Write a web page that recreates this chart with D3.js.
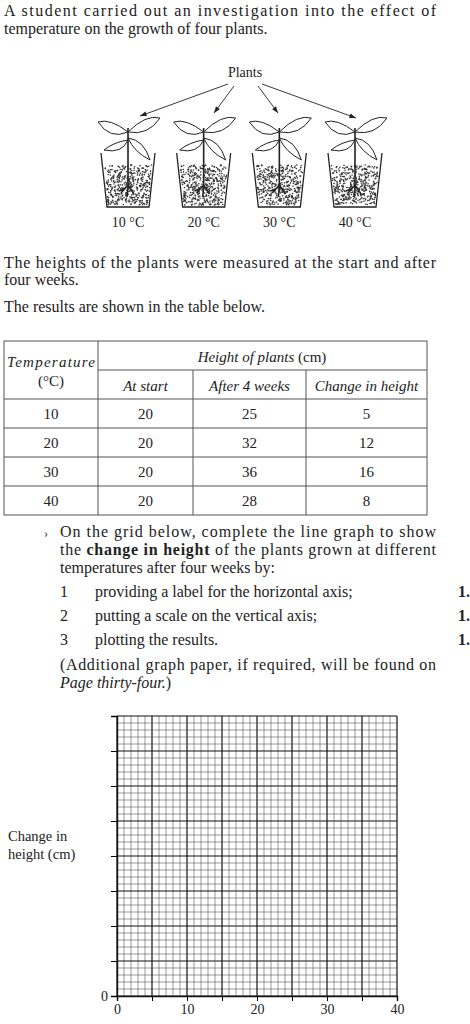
<!DOCTYPE html>
<html>
<head>
<meta charset="utf-8">
<script src="https://cdn.jsdelivr.net/npm/d3@7"></script>
<style>
  body { margin: 0; background: #fff; }
  svg { display: block; font-family: "Liberation Serif", "DejaVu Serif", serif; }
</style>
</head>
<body>
<svg id="page" width="470" height="1024"></svg>
<script>
// data from the table
const temperatures = [10, 20, 30, 40]
const atStart = [20, 20, 20, 20]
const after4Weeks = [25, 32, 36, 28]
const changeInHeight = [5, 12, 16, 8]
const headers = ["At start", "After 4 weeks", "Change in height"]
const xTicks = [0, 10, 20, 30, 40]

const svg = d3.select("#page")
const ink = "#222"
const FS = 16

// justified line helper
function line(x, y, txt, opts = {}) {
    const t = svg.append("text").attr("x", x).attr("y", y)
        .attr("font-size", opts.size || FS).attr("fill", ink)
    if (opts.width) t.attr("textLength", opts.width).attr("lengthAdjust", "spacing")
    if (opts.italic) t.attr("font-style", "italic")
    t.text(txt)
    return t
}

line(4, 16, "A student carried out an investigation into the effect of", {width: 432})
line(4, 34, "temperature on the growth of four plants.")

// plants illustration
const potX = d3.scaleLinear().domain([10, 40]).range([128, 355])
svg.append("text").attr("x", 245).attr("y", 77).attr("text-anchor", "middle")
    .attr("font-size", 14).attr("fill", ink).text("Plants")
const arrowEnds = [[140, 116], [214, 113], [278, 113], [356, 118]]
const arrowStarts = [[228, 84], [234, 86], [258, 86], [262, 84]]
arrowEnds.forEach((e, i) => {
    const s = arrowStarts[i]
    svg.append("line").attr("x1", s[0]).attr("y1", s[1]).attr("x2", e[0]).attr("y2", e[1])
        .attr("stroke", ink).attr("stroke-width", 0.9)
    const a = Math.atan2(e[1] - s[1], e[0] - s[0])
    const p = [[e[0], e[1]],
        [e[0] - 7 * Math.cos(a - 0.35), e[1] - 7 * Math.sin(a - 0.35)],
        [e[0] - 7 * Math.cos(a + 0.35), e[1] - 7 * Math.sin(a + 0.35)]]
    svg.append("path").attr("d", "M" + p.join("L") + "Z").attr("fill", ink)
})

// deterministic hash for soil texture
const hash = n => { const s = Math.sin(n * 12.9898) * 43758.5453; return s - Math.floor(s) }

temperatures.forEach((t, i) => {
    const cx = potX(t)
    const g = svg.append("g").attr("transform", `translate(${cx},0)`)
    g.append("path").attr("d", "M-24,165 Q-12,162 0,165 Q12,162 24,165 L20,205 L-20,205 Z")
        .attr("fill", "#fff").attr("stroke", "none")
    for (let k = 0; k < 420; k++) {
        const py = 165 + hash(k + i * 1000) * 40
        const half = 24 - (py - 165) * 0.1
        const px = (hash(k * 7 + 3 + i * 999) * 2 - 1) * half
        g.append("circle").attr("cx", px).attr("cy", py).attr("r", 0.8).attr("fill", "#333")
    }
    g.append("path").attr("d", "M-27,153 L-21,207 L21,207 L27,153")
        .attr("fill", "none").attr("stroke", ink).attr("stroke-width", 1.3)
    g.append("path").attr("d", "M0,190 L0,128 M0,185 l-7,8 M0,185 l6,9 M0,187 l-1,10 M-4,189 l-5,2")
        .attr("stroke", ink).attr("stroke-width", 1.6).attr("fill", "none")
    const leaves = ["M0,132 Q-18,118 -30,122 Q-18,140 0,132",
        "M0,132 Q18,114 32,118 Q20,136 0,132",
        "M0,140 Q-14,142 -24,150 Q-6,154 0,140",
        "M0,138 Q16,140 22,160 Q6,152 0,138"]
    leaves.forEach(d => g.append("path").attr("d", d)
        .attr("fill", "#fff").attr("stroke", ink).attr("stroke-width", 1))
    svg.append("text").attr("x", cx).attr("y", 227).attr("text-anchor", "middle")
        .attr("font-size", 14).attr("fill", ink).text(t + " °C")
})

line(4, 268, "The heights of the plants were measured at the start and after", {width: 432})
line(4, 285, "four weeks.")
line(4, 312, "The results are shown in the table below.")

// table
const colEdges = [4, 98, 193, 306, 427]
const rowEdges = [341, 370, 399, 428, 457, 486, 515]
const tg = svg.append("g").attr("stroke", "#555").attr("stroke-width", 1)
tg.append("rect").attr("x", 4).attr("y", 341).attr("width", 423).attr("height", 174).attr("fill", "none")
tg.append("line").attr("x1", 98).attr("x2", 427).attr("y1", 370).attr("y2", 370)
rowEdges.slice(2, 6).forEach(y => tg.append("line").attr("x1", 4).attr("x2", 427).attr("y1", y).attr("y2", y))
colEdges.slice(1, 4).forEach((x, i) => tg.append("line").attr("x1", x).attr("x2", x)
    .attr("y1", i === 0 ? 341 : 370).attr("y2", 515))

const mid = i => (colEdges[i] + colEdges[i + 1]) / 2
const cell = (x, y, txt, italic) => svg.append("text").attr("x", x).attr("y", y)
    .attr("text-anchor", "middle").attr("font-size", 15).attr("fill", ink)
    .attr("font-style", italic ? "italic" : null).text(txt)
cell(mid(0), 367, "Temperature", true).attr("textLength", 88).attr("lengthAdjust", "spacing")
cell(mid(0), 386, "(°C)", false)
const h = svg.append("text").attr("x", 262).attr("y", 362).attr("text-anchor", "middle")
    .attr("font-size", 15).attr("fill", ink)
h.append("tspan").attr("font-style", "italic").text("Height of plants")
h.append("tspan").text(" (cm)")
headers.forEach((t, i) => cell(mid(i + 1), 391, t, true))
temperatures.forEach((t, r) => {
    const y = rowEdges[r + 2] + 20
    cell(mid(0), y, t)
    cell(mid(1), y, atStart[r])
    cell(mid(2), y, after4Weeks[r])
    cell(mid(3), y, changeInHeight[r])
})

// question text
line(44, 537, "›", {size: 12})
line(60, 537, "On the grid below, complete the line graph to show", {width: 376})
const q2 = svg.append("text").attr("x", 60).attr("y", 555).attr("font-size", FS).attr("fill", ink)
    .attr("textLength", 376).attr("lengthAdjust", "spacing")
q2.append("tspan").text("the ")
q2.append("tspan").attr("font-weight", "bold").text("change in height")
q2.append("tspan").text(" of the plants grown at different")
line(60, 573, "temperatures after four weeks by:")
const items = ["providing a label for the horizontal axis;", "putting a scale on the vertical axis;", "plotting the results."]
items.forEach((t, i) => {
    const y = 597 + i * 24
    line(60, y, String(i + 1))
    line(95, y, t)
    svg.append("text").attr("x", 458).attr("y", y).attr("font-size", FS)
        .attr("font-weight", "bold").attr("fill", ink).text("1.")
})
line(60, 670, "(Additional graph paper, if required, will be found on", {width: 376})
const q3 = svg.append("text").attr("x", 60).attr("y", 688).attr("font-size", FS).attr("fill", ink)
q3.append("tspan").attr("font-style", "italic").text("Page thirty-four.")
q3.append("tspan").text(")")

// graph grid
const x = d3.scaleLinear().domain([0, 40]).range([117, 397])
const y = d3.scaleLinear().domain([0, 40]).range([996, 716])
const grid = svg.append("g")
d3.range(0, 41).forEach(v => {
    const major = v % 5 === 0
    grid.append("line").attr("x1", x(v)).attr("x2", x(v)).attr("y1", y(0)).attr("y2", y(40))
        .attr("stroke", major ? "#111" : "#555").attr("stroke-width", major ? 1.2 : 0.6)
    grid.append("line").attr("y1", y(v)).attr("y2", y(v)).attr("x1", x(0)).attr("x2", x(40))
        .attr("stroke", major ? "#111" : "#555").attr("stroke-width", major ? 1.2 : 0.6)
})
svg.append("g").attr("transform", `translate(0,${y(0)})`)
    .call(d3.axisBottom(x).tickValues(d3.range(0, 41, 5)).tickSize(5).tickFormat(d => xTicks.includes(d) ? d : ""))
    .call(g => g.select(".domain").attr("stroke", "#111").attr("stroke-width", 1.4))
    .call(g => g.selectAll("text").attr("font-size", 14).attr("fill", ink).attr("font-family", "Liberation Serif"))
svg.append("g").attr("transform", `translate(${x(0)},0)`)
    .call(d3.axisLeft(y).tickValues(d3.range(0, 41, 5)).tickSize(6).tickFormat(d => d === 0 ? "0" : ""))
    .call(g => g.select(".domain").attr("stroke", "#111").attr("stroke-width", 1.4))
    .call(g => g.selectAll("text").attr("font-size", 14).attr("fill", ink).attr("font-family", "Liberation Serif"))

line(8, 841, "Change in", {size: 14.5})
line(8, 859, "height (cm)", {size: 14.5})
</script>
</body>
</html>
